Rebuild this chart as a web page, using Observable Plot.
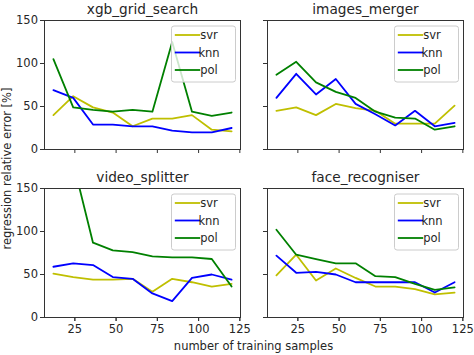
<!DOCTYPE html>
<html><head><meta charset="utf-8">
<script src="https://cdn.jsdelivr.net/npm/d3@7"></script>
<script src="https://cdn.jsdelivr.net/npm/@observablehq/plot@0.6"></script>
<style>
html,body{margin:0;padding:0;background:#fff;}
#chart{width:474px;height:355px;}
</style></head><body><div id="chart"></div>
<script>
const samples = [12, 24, 36, 48, 60, 72, 84, 96, 108, 120];
const panelNames = ["xgb_grid_search", "images_merger", "video_splitter", "face_recogniser"];
const seriesNames = ["svr", "knn", "pol"];
const seriesColors = ["#bfbf00", "#0000ff", "#008000"];
const yTicks = [0, 50, 100, 150];
const xTicks = [25, 50, 75, 100, 125];
const yLabel = "regression relative error [%]";
const xLabel = "number of training samples";

const xgbSvr = [40, 62, 49, 43, 27, 36, 36, 40, 23, 21];
const xgbKnn = [69, 60, 29, 29, 27, 27, 22, 20, 20, 25];
const xgbPol = [105, 49, 46, 44, 46, 44, 125, 44, 39, 43];
const imgSvr = [45, 49, 40, 53, 48, 45, 30, 30, 30, 51];
const imgKnn = [60, 88, 64, 82, 53, 41, 28, 45, 27, 31];
const imgPol = [87, 102, 78, 67, 60, 44, 37, 36, 23, 27];
const vidSvr = [51, 47, 44, 44, 45, 30, 45, 41, 36, 39];
const vidKnn = [59, 63, 61, 47, 45, 28, 19, 46, 50, 44];
const vidPol = [250, 180, 87, 78, 76, 71, 70, 70, 68, 36];
const faceSvr = [49, 73, 43, 57, 46, 36, 36, 33, 27, 29];
const faceKnn = [72, 52, 53, 50, 41, 41, 41, 41, 29, 41];
const facePol = [102, 73, 68, 63, 63, 48, 47, 39, 32, 35];

const panelSeries = [
  [xgbSvr, xgbKnn, xgbPol],
  [imgSvr, imgKnn, imgPol],
  [vidSvr, vidKnn, vidPol],
  [faceSvr, faceKnn, facePol]
];

const rows = [];
const titles = [];
panelNames.forEach((p, pi) => {
  const col = pi % 2, row = Math.floor(pi / 2);
  titles.push({panel: p, col, row});
  panelSeries[pi].forEach((vals, si) => vals.forEach((v, i) => {
    rows.push({panel: p, col, row, series: seriesNames[si], n: samples[i], err: v});
  }));
});

const W = 474, H = 355, ML = 44, MR = 11, MT = 20, MB = 38;
const ink = "#262626";

const plot = Plot.plot({
  width: W, height: H,
  marginLeft: ML, marginRight: MR, marginTop: MT, marginBottom: MB,
  style: {fontFamily: "'DejaVu Sans', sans-serif", fontSize: "11.5px", color: ink, background: "#fff", overflow: "visible"},
  x: {domain: [6.6, 125.4]},
  y: {domain: [0, 150]},
  fx: {domain: [0, 1], paddingInner: 27 / 223, paddingOuter: 0, axis: null, round: false},
  fy: {domain: [0, 1], paddingInner: 39 / 168, paddingOuter: 0, axis: null, round: false},
  color: {domain: seriesNames, range: seriesColors},
  marks: [
    Plot.line(rows, {fx: "col", fy: "row", x: "n", y: "err", z: "series", stroke: "series", strokeWidth: 1.8, clip: true}),
    Plot.frame({stroke: "#333", strokeWidth: 1}),
    Plot.axisY({ticks: yTicks, tickSize: 4, tickPadding: 2.5, label: null, facetAnchor: "left", stroke: "#333"}),
    Plot.axisY({ticks: yTicks, tickSize: 4, tickFormat: () => "", label: null, facetAnchor: null, stroke: "#333"}),
    Plot.axisX({ticks: xTicks, tickSize: 4, tickPadding: 3.5, label: null, facetAnchor: "bottom", stroke: "#333"}),
    Plot.axisX({ticks: xTicks, tickSize: 4, tickFormat: () => "", label: null, facetAnchor: null, stroke: "#333"}),
    Plot.text(titles, {fx: "col", fy: "row", text: "panel", frameAnchor: "top", lineAnchor: "bottom", dy: -7, fontSize: 13.7, fill: ink})
  ]
});
document.getElementById("chart").appendChild(plot);

// facet geometry from Plot's own facet scales
const fxS = plot.scale("fx"), fyS = plot.scale("fy");
function band(s, v, r0, r1, p) {
  if (s && s.apply && s.bandwidth != null) return [s.apply(v), s.apply(v) + s.bandwidth];
  const step = (r1 - r0) / (2 - p), bw = step * (1 - p);
  return [r0 + v * step, r0 + v * step + bw];
}
const svg = d3.select(plot);
titles.forEach(t => {
  const [x0, x1] = band(fxS, t.col, ML, W - MR, 27 / 223);
  const [y0] = band(fyS, t.row, MT, H - MB, 39 / 168);
  const bw = 64, bh = 56;
  const bx = x1 - 4.5 - bw, by = y0 + 6;
  const g = svg.append("g").attr("class", "legend");
  g.append("rect").attr("x", bx).attr("y", by).attr("width", bw).attr("height", bh)
    .attr("rx", 2.5).attr("fill", "#fff").attr("fill-opacity", 0.8).attr("stroke", "#cccccc").attr("stroke-width", 1);
  seriesNames.forEach((s, i) => {
    const yy = y0 + 15 + i * 17.5;
    g.append("line").attr("x1", bx + 3.3).attr("x2", bx + 28.7).attr("y1", yy).attr("y2", yy)
      .attr("stroke", seriesColors[i]).attr("stroke-width", 1.8);
    g.append("text").attr("x", bx + 37.5).attr("y", yy + 4).attr("fill", ink)
      .attr("font-size", 11.5).text(s);
  });
});
// shared axis labels
svg.append("text").attr("x", (ML + W - MR) / 2).attr("y", 350).attr("text-anchor", "middle")
  .attr("fill", ink).attr("font-size", 11.5).text(xLabel);
svg.append("text").attr("transform", `translate(10.5,${(MT + H - MB) / 2}) rotate(-90)`).attr("text-anchor", "middle")
  .attr("fill", ink).attr("font-size", 11.5).text(yLabel);
</script>
</body></html>
